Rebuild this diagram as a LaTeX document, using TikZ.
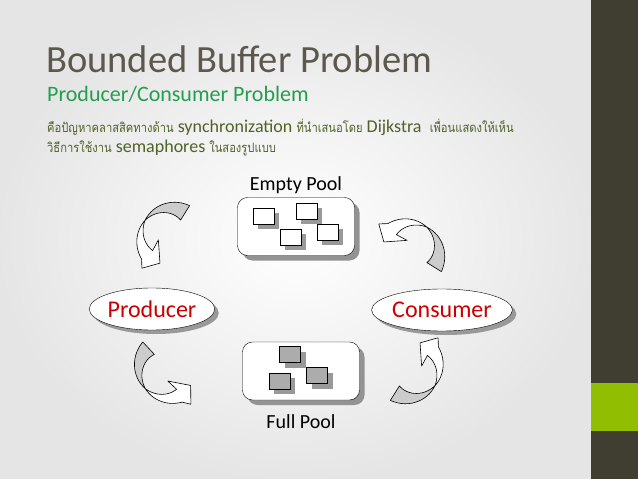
\documentclass[tikz,border=0pt]{standalone}
\usepackage{fontspec}
\setmainfont{Carlito}
\newfontfamily\thaifont[Script=Thai, FakeStretch=0.86]{Loma}
\usetikzlibrary{shapes.geometric,shadows}
\definecolor{titlegray}{RGB}{92,88,78}
\definecolor{subgreen}{RGB}{34,158,78}
\definecolor{olivetext}{RGB}{79,98,40}
\definecolor{sidebar}{RGB}{64,62,48}
\definecolor{accent}{RGB}{146,190,0}
\definecolor{labelred}{RGB}{204,0,0}

\begin{document}
\begin{tikzpicture}[x=1pt, y=-1pt, node distance=41pt]

% Define slide styles
\tikzstyle{heading} = [anchor=base west, inner sep=0pt]
\tikzstyle{pool} = [rectangle, rounded corners=10pt, draw=black, fill=white, minimum width=117pt, minimum height=58pt, drop shadow={shadow xshift=5pt, shadow yshift=-5pt, fill=gray!85, opacity=1}]
\tikzstyle{slot} = [rectangle, draw=black, fill=white, minimum width=21pt, minimum height=16pt, inner sep=0pt, drop shadow={shadow xshift=5pt, shadow yshift=-5pt, fill=gray!80, opacity=1}]
\tikzstyle{fullslot} = [slot, fill=gray!65]
\tikzstyle{poollabel} = [font=\fontsize{20}{24}\selectfont, inner sep=0pt]
\tikzstyle{actor} = [ellipse, draw=black, fill=white, minimum width=112pt, minimum height=42pt, inner sep=0pt, text=labelred, font=\fontsize{24}{28}\selectfont, drop shadow={shadow xshift=4pt, shadow yshift=-4pt, fill=gray!80, opacity=1}]
\tikzstyle{backface} = [draw=black, fill=gray!40, line width=0.6pt, line join=round]
\tikzstyle{frontface} = [draw=black, fill=white, line width=0.6pt, line join=round]
\newcommand{\thaitext}[1]{{\thaifont\fontsize{13}{16}\selectfont #1}}

% Define the twisted cycle arrow
\tikzset{cycle arrow/.pic={
  \filldraw[backface] plot[domain=0:1, samples=16, variable=\t] ({302-88*\t}:{37-7*\t})
    -- plot[domain=0:1, samples=16, variable=\t] ({214+88*\t}:{30-10*\t}) -- cycle;
  \filldraw[frontface] plot[domain=0:1, samples=16, variable=\t] ({214-72*\t}:{30+6*\t})
    -- (132:42) -- (111:28) -- (166:12)
    -- plot[domain=0:1, samples=16, variable=\t] ({142+72*\t}:{22+8*\t}) -- cycle;
}}

% Background and side bar
\useasboundingbox (0,0) rectangle (638,479);
\shade[inner color=white, outer color=gray!20] (0,0) rectangle (591,479);
\fill[sidebar] (591,0) rectangle (638,479);
\fill[accent] (591,383) rectangle (638,431);

% Define heading nodes
\node[heading, text=titlegray, font=\fontsize{38.5}{44}\selectfont] (title) at (46,72) {Bounded Buffer Problem};
\node[heading, text=subgreen, font=\fontsize{22}{26}\selectfont] (subtitle) at (47,101) {Producer/Consumer Problem};
\node[heading, text=olivetext, font=\fontsize{18}{22}\selectfont] (lineA) at (47,132)
  {\thaitext{คือปัญหาคลาสสิคทางด้าน} synchronization \thaitext{ที่นำเสนอโดย} Dijkstra\ \ \thaitext{เพื่อนแสดงให้เห็น}};
\node[heading, text=olivetext, font=\fontsize{18}{22}\selectfont] (lineB) at (47,152)
  {\thaitext{วิธีการใช้งาน} semaphores \thaitext{ในสองรูปแบบ}};

% Define pools
\node[pool] (emptyPool) at (296,226.5) {};
\node[poollabel, above of=emptyPool] (emptyLabel) {Empty Pool};
\node[slot] (emptyA) at (263.5,216) {};
\node[slot] (emptyB) at (306.5,211) {};
\node[slot] (emptyC) at (290.5,237) {};
\node[slot] (emptyD) at (327.5,232) {};

\node[pool] (fullPool) at (301,371) {};
\node[poollabel, below of=fullPool, yshift=-10pt] (fullLabel) {Full Pool};
\node[fullslot] (fullA) at (290,354.5) {};
\node[fullslot] (fullB) at (279.5,381) {};
\node[fullslot] (fullC) at (317,375.5) {};

% Define producer and consumer
\node[actor] (producer) at (152,309) {Producer};
\node[actor] (consumer) at (442,310) {Consumer};

% Cycle arrows
\pic at (170,237) {cycle arrow};
\pic[rotate=75] at (168,369) {cycle arrow};
\pic[rotate=180] at (410,369) {cycle arrow};
\pic[rotate=270] at (410,252) {cycle arrow};

\end{tikzpicture}
\end{document}
